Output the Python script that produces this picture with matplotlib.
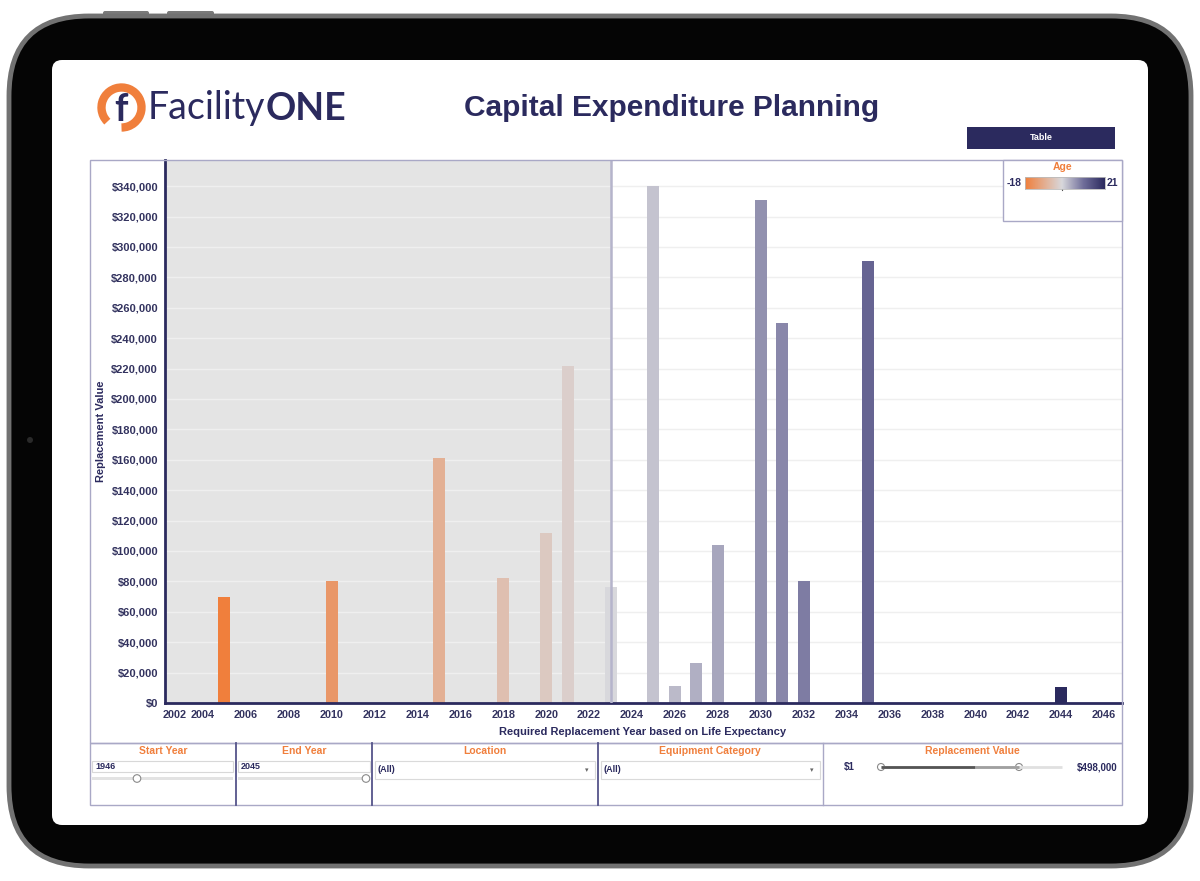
import numpy as np
import matplotlib.pyplot as plt
from matplotlib.patches import FancyBboxPatch, Rectangle, Circle, Arc
from matplotlib.colors import LinearSegmentedColormap, Normalize
from matplotlib.ticker import FuncFormatter

plt.rcParams['font.family'] = ['Liberation Sans', 'DejaVu Sans']

# chart data
years = [2005, 2010, 2015, 2018, 2020, 2021, 2023, 2025, 2026, 2027, 2028, 2030, 2031, 2032, 2035, 2044]
values = [70000, 80000, 161000, 82000, 112000, 222000, 76000, 340000, 11000, 26000, 104000,
          331000, 250000, 80000, 291000, 10500]
current_year = 2023
ages = [y - current_year for y in years]
age_min, age_max = -18, 21
year_ticks = list(range(2004, 2047, 2))
value_ticks = list(range(0, 340001, 20000))

filter_titles = ["Start Year", "End Year", "Location", "Equipment Category", "Replacement Value"]
start_year, end_year = 1946, 2045
value_range = (1, 498000)

NAVY = '#2B2A5E'
ORANGE = '#F07F3C'
LINE = '#A9A8C6'
W, H = 1200, 881

fig = plt.figure(figsize=(12, 8.81), dpi=100)
fig.patch.set_facecolor('white')


def px_axes(x0, y0, x1, y1, **kw):
    # axes placed in pixel coords (y from top)
    return fig.add_axes([x0 / W, 1 - y1 / H, (x1 - x0) / W, (y1 - y0) / H], **kw)


# ---- tablet frame and screen ----
bg = px_axes(0, 0, W, H, zorder=0)
bg.axis('off')

bg.add_patch(FancyBboxPatch((103, 11), 46, 6, boxstyle='round,pad=0,rounding_size=2', fc='#7a7a7a', ec='none'))
bg.add_patch(FancyBboxPatch((167, 11), 47, 6, boxstyle='round,pad=0,rounding_size=2', fc='#7a7a7a', ec='none'))
bg.add_patch(FancyBboxPatch((9, 16), 1182, 850, boxstyle='round,pad=0,rounding_size=80',
                            fc='#050505', ec='#727272', lw=3.5))
bg.add_patch(Circle((30, 440), 3, fc='#2a2a2a', ec='none'))
screen = FancyBboxPatch((52, 60), 1096, 765, boxstyle='round,pad=0,rounding_size=10', fc='white', ec='none')
bg.add_patch(screen)

grad = np.linspace(0, 1, 60).reshape(-1, 1)
band = LinearSegmentedColormap.from_list('band', ['#c4c4c4', '#e6e6e6', '#ffffff'])
im1 = bg.imshow(grad, extent=(52, 1148, 81, 60), cmap=band, aspect='auto')
im1.set_clip_path(screen)
band2 = LinearSegmentedColormap.from_list('band2', ['#d2d2d2', '#e4e4e4', '#f4f4f4'])
im2 = bg.imshow(grad[::-1], extent=(52, 1148, 825, 806), cmap=band2, aspect='auto')
im2.set_clip_path(screen)

# logo
bg.add_patch(Arc((121.5, 107.5), 40, 40, theta1=135, theta2=450, color=ORANGE, lw=6))
bg.text(121, 110, 'f', fontsize=27, fontweight='bold', color=NAVY, ha='center', va='center', family='Lato')
t = bg.text(148, 108, 'Facility', fontsize=27, color=NAVY, ha='left', va='center', family='Lato')
bg.annotate('ONE', xy=(1, 0), xycoords=t, ha='left', va='bottom', fontsize=27, fontweight='bold',
            color=NAVY, family='Lato')

# title and button
bg.text(672, 108, 'Capital Expenditure Planning', fontsize=21.5, fontweight='bold', color=NAVY,
        ha='center', va='center')
bg.add_patch(Rectangle((967, 127), 148, 22, fc=NAVY, ec='none'))
bg.text(1041, 138, 'Table', fontsize=6.5, fontweight='bold', color='white', ha='center', va='center')

# axis titles
bg.text(101, 431, 'Replacement Value', rotation=90, fontsize=8, fontweight='bold', color=NAVY,
        ha='center', va='center')
bg.text(643, 732, 'Required Replacement Year based on Life Expectancy', fontsize=8, fontweight='bold',
        color=NAVY, ha='center', va='center')

bg.set_xlim(0, W)
bg.set_ylim(H, 0)

# ---- bar chart ----
cmap = LinearSegmentedColormap.from_list(
    'age', [(0, ORANGE), (18 / 39, '#D8D8DC'), (0.7308, '#706E9A'), (1, NAVY)])
norm = Normalize(age_min, age_max)

ax = px_axes(165, 160, 1122, 703, zorder=1)
ax.set_facecolor('none')
ax.axvspan(2000, current_year, color='#E4E4E4', lw=0, zorder=0.1)
ax.axvline(current_year, color='#B5B4CB', lw=1.8, zorder=3)
ax.bar(years, values, width=0.56, color=cmap(norm(ages)), zorder=2)

ax.set_xlim(2002.23, 2046.84)
ax.set_ylim(0, 357200)
ax.set_xticks(year_ticks)
ax.set_yticks(value_ticks)
ax.yaxis.set_major_formatter(FuncFormatter(lambda v, p: f'${v:,.0f}'))
ax.set_axisbelow(True)
ax.yaxis.grid(True, color='#EFEFEF', lw=1)
ax.tick_params(axis='y', length=0, labelsize=8, labelcolor='#33335F', pad=5)
ax.tick_params(axis='x', length=0, labelsize=7.8, labelcolor='#33335F', pad=5)
for lbl in ax.get_xticklabels() + ax.get_yticklabels():
    lbl.set_fontweight('bold')
ax.annotate('2002', xy=(0, 0), xycoords='axes fraction', xytext=(-1.5, -5), textcoords='offset points',
            ha='left', va='top', fontsize=7.8, fontweight='bold', color='#33335F')
for s in ['top', 'right']:
    ax.spines[s].set_visible(False)
for s in ['left', 'bottom']:
    ax.spines[s].set_color(NAVY)
    ax.spines[s].set_linewidth(2)

# ---- overlay: panel borders, legend, filters ----
ov = px_axes(0, 0, W, H, zorder=4)
ov.axis('off')
ov.add_patch(Rectangle((90, 160), 1032, 583, fill=False, ec=LINE, lw=1))
ov.add_patch(Rectangle((90, 743), 1032, 62, fill=False, ec=LINE, lw=1))
for xd in [236, 372, 598]:
    ov.plot([xd, xd], [743, 805], color='#55548A', lw=1.3)
ov.plot([823, 823], [743, 805], color=LINE, lw=1)

# age legend
ov.add_patch(Rectangle((1003, 160), 119, 61, fc='white', ec=LINE, lw=1))
ov.text(1063, 167, 'Age', fontsize=7.5, fontweight='bold', color=ORANGE, ha='center', va='center')
ov.text(1022, 183, str(age_min), fontsize=7.5, fontweight='bold', color=NAVY, ha='right', va='center')
ov.text(1107, 183, str(age_max), fontsize=7.5, fontweight='bold', color=NAVY, ha='left', va='center')
ov.plot([1061.5, 1061.5], [187, 189.5], color='#555555', lw=0.8)
cb = px_axes(1025, 177, 1105, 189, zorder=5)
cb.imshow(np.linspace(age_min, age_max, 256)[None, :], cmap=cmap, norm=norm, aspect='auto')
cb.set_xticks([])
cb.set_yticks([])
for s in cb.spines.values():
    s.set_color('#BBBBBB')
    s.set_linewidth(0.6)

# filter headers
for title, xc in zip(filter_titles, [163, 304, 485, 710, 972]):
    ov.text(xc, 751, title, fontsize=7.5, fontweight='bold', color=ORANGE, ha='center', va='center')

# year sliders
for x0, w, val, knob in [(92, 141, start_year, 137), (238, 132, end_year, 366)]:
    ov.add_patch(Rectangle((x0, 761), w, 11, fc='white', ec='#D8D8D8', lw=0.8))
    ov.text(x0 + 3, 766.5, str(val), fontsize=6.5, fontweight='bold', color=NAVY, ha='left', va='center')
    ov.add_patch(Rectangle((x0, 777), w, 3, fc='#E3E3E3', ec='none'))
    ov.add_patch(Circle((knob, 778.5), 3.8, fc='white', ec='#8A8A8A', lw=0.8))

# dropdowns
for x0, w in [(375, 220), (601, 219)]:
    ov.add_patch(Rectangle((x0, 761), w, 18, fc='white', ec='#DADADA', lw=0.8))
    ov.text(x0 + 3, 770, '(All)', fontsize=6.5, fontweight='bold', color=NAVY, ha='left', va='center')
    ov.text(x0 + w - 8, 770, '\u25be', fontsize=5, color='#666666', ha='center', va='center',
            family='DejaVu Sans')

# replacement value range slider
ov.text(849, 767, f'${value_range[0]:,}', fontsize=7, fontweight='bold', color=NAVY, ha='center', va='center')
ov.text(1117, 767, f'${value_range[1]:,}', fontsize=7, fontweight='bold', color=NAVY, ha='right', va='center')
ov.plot([881, 1062], [767, 767], color='#E0E0E0', lw=2, solid_capstyle='butt')
ov.plot([881, 975], [767, 767], color='#555555', lw=2, solid_capstyle='butt')
ov.plot([975, 1019], [767, 767], color='#A0A0A0', lw=2, solid_capstyle='butt')
for kx in [881, 1019]:
    ov.add_patch(Circle((kx, 767), 3.5, fc='white', ec='#8A8A8A', lw=0.8))

ov.set_xlim(0, W)
ov.set_ylim(H, 0)

fig.savefig('out.png', dpi=100)
